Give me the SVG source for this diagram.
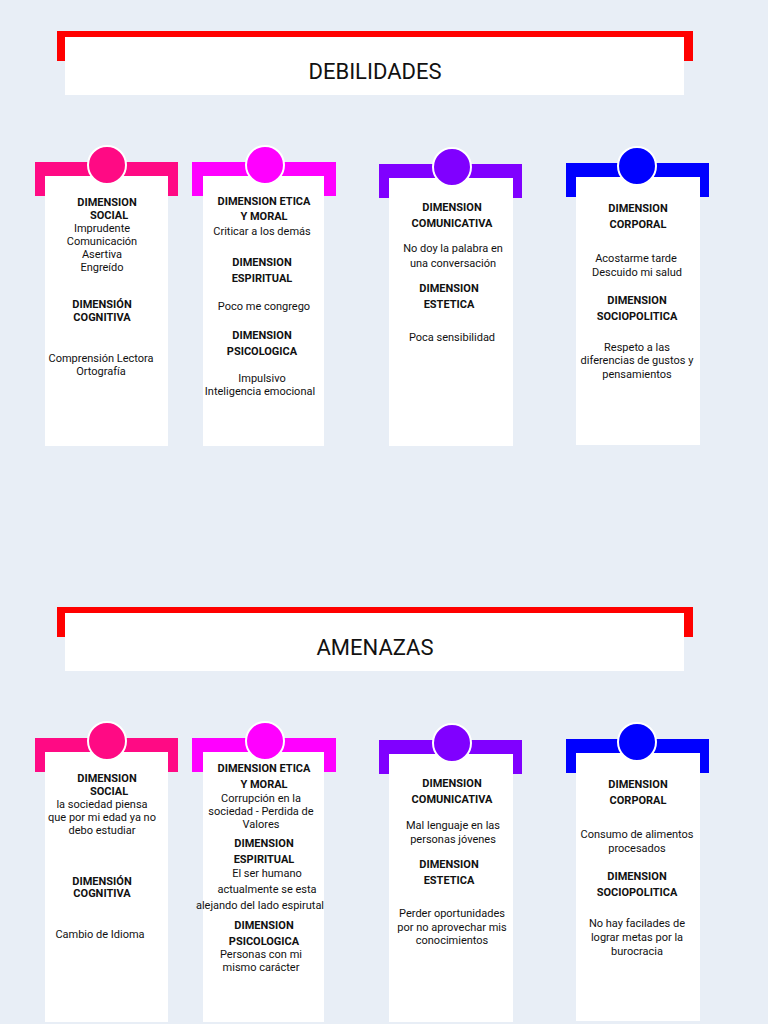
<svg xmlns="http://www.w3.org/2000/svg" width="768" height="1024" viewBox="0 0 768 1024">
<style>
text{font-family:Roboto,"Liberation Sans",sans-serif;text-anchor:middle;fill:#111}
.t{font-size:11px}
.b{font-size:11px;font-weight:bold}
.h{font-size:22px}
.card{fill:#fff}
.c{stroke:#fff;stroke-width:2}
</style>
<rect width="768" height="1024" fill="#e8eef6"/>
<g id="hdr1"><rect x="57" y="31" width="636" height="30" fill="#ff0000"/><rect x="65" y="37" width="619" height="58" fill="#fff"/><text class="h" x="375" y="79">DEBILIDADES</text></g>
<g id="hdr2"><rect x="57" y="607" width="636" height="30" fill="#ff0000"/><rect x="65" y="613" width="619" height="58" fill="#fff"/><text class="h" x="375" y="655">AMENAZAS</text></g>

<g id="d1"><rect x="35" y="162" width="143" height="34" fill="#ff0a84"/><rect class="card" x="45" y="176" width="123" height="270"/><circle class="c" cx="107" cy="165" r="19" fill="#ff0a84"/>
<text class="b" x="107" y="206">DIMENSION</text><text class="b" x="109" y="219">SOCIAL</text>
<text class="t" x="102" y="232">Imprudente</text><text class="t" x="102" y="245">Comunicación</text><text class="t" x="102" y="258">Asertiva</text><text class="t" x="102" y="271">Engreído</text>
<text class="b" x="102" y="308">DIMENSIÓN</text><text class="b" x="102" y="321">COGNITIVA</text>
<text class="t" x="101" y="362">Comprensión Lectora</text><text class="t" x="101" y="375">Ortografía</text></g>

<g id="d2"><rect x="192" y="162" width="144" height="34" fill="#ff00ff"/><rect class="card" x="203" y="176" width="121" height="270"/><circle class="c" cx="265" cy="165" r="19" fill="#ff00ff"/>
<text class="b" x="264" y="205">DIMENSION ETICA</text><text class="b" x="264" y="220">Y MORAL</text><text class="t" x="262" y="235">Criticar a los demás</text>
<text class="b" x="262" y="266">DIMENSION</text><text class="b" x="262" y="282">ESPIRITUAL</text><text class="t" x="264" y="310">Poco me congrego</text>
<text class="b" x="262" y="339">DIMENSION</text><text class="b" x="262" y="355">PSICOLOGICA</text>
<text class="t" x="262" y="382">Impulsivo</text><text class="t" x="260" y="395">Inteligencia emocional</text></g>

<g id="d3"><rect x="379" y="164" width="143" height="34" fill="#8000ff"/><rect class="card" x="389" y="178" width="124" height="268"/><circle class="c" cx="452" cy="167" r="19" fill="#8000ff"/>
<text class="b" x="452" y="211">DIMENSION</text><text class="b" x="452" y="227">COMUNICATIVA</text>
<text class="t" x="453" y="252">No doy la palabra en</text><text class="t" x="453" y="267">una conversación</text>
<text class="b" x="449" y="292">DIMENSION</text><text class="b" x="449" y="308">ESTETICA</text><text class="t" x="452" y="341">Poca sensibilidad</text></g>

<g id="d4"><rect x="566" y="163" width="143" height="34" fill="#0000ff"/><rect class="card" x="576" y="177" width="124" height="268"/><circle class="c" cx="637" cy="166" r="19" fill="#0000ff"/>
<text class="b" x="638" y="212">DIMENSION</text><text class="b" x="638" y="228">CORPORAL</text>
<text class="t" x="636" y="262">Acostarme tarde</text><text class="t" x="637" y="276">Descuido mi salud</text>
<text class="b" x="637" y="304">DIMENSION</text><text class="b" x="637" y="320">SOCIOPOLITICA</text>
<text class="t" x="637" y="351">Respeto a las</text><text class="t" x="637" y="364">diferencias de gustos y</text><text class="t" x="637" y="378">pensamientos</text></g>

<g id="a1"><rect x="35" y="738" width="143" height="34" fill="#ff0a84"/><rect class="card" x="45" y="752" width="123" height="270"/><circle class="c" cx="107" cy="741" r="19" fill="#ff0a84"/>
<text class="b" x="107" y="782">DIMENSION</text><text class="b" x="109" y="795">SOCIAL</text>
<text class="t" x="102" y="808">la sociedad piensa</text><text class="t" x="102" y="821">que por mi edad ya no</text><text class="t" x="102" y="834">debo estudiar</text>
<text class="b" x="102" y="885">DIMENSIÓN</text><text class="b" x="102" y="897">COGNITIVA</text><text class="t" x="100" y="938">Cambio de Idioma</text></g>

<g id="a2"><rect x="192" y="738" width="144" height="34" fill="#ff00ff"/><rect class="card" x="203" y="752" width="121" height="270"/><circle class="c" cx="265" cy="741" r="19" fill="#ff00ff"/>
<text class="b" x="264" y="772">DIMENSION ETICA</text><text class="b" x="264" y="788">Y MORAL</text>
<text class="t" x="261" y="802">Corrupción en la</text><text class="t" x="261" y="815">sociedad - Perdida de</text><text class="t" x="261" y="828">Valores</text>
<text class="b" x="264" y="847">DIMENSION</text><text class="b" x="264" y="863">ESPIRITUAL</text>
<text class="t" x="267" y="877">El ser humano</text><text class="t" x="267" y="893">actualmente se esta</text><text class="t" x="260" y="909">alejando del lado espirutal</text>
<text class="b" x="264" y="929">DIMENSION</text><text class="b" x="264" y="945">PSICOLOGICA</text>
<text class="t" x="261" y="958">Personas con mi</text><text class="t" x="261" y="971">mismo carácter</text></g>

<g id="a3"><rect x="379" y="740" width="143" height="34" fill="#8000ff"/><rect class="card" x="389" y="754" width="124" height="268"/><circle class="c" cx="452" cy="743" r="19" fill="#8000ff"/>
<text class="b" x="452" y="787">DIMENSION</text><text class="b" x="452" y="803">COMUNICATIVA</text>
<text class="t" x="453" y="829">Mal lenguaje en las</text><text class="t" x="453" y="843">personas jóvenes</text>
<text class="b" x="449" y="868">DIMENSION</text><text class="b" x="449" y="884">ESTETICA</text>
<text class="t" x="452" y="917">Perder oportunidades</text><text class="t" x="452" y="931">por no aprovechar mis</text><text class="t" x="452" y="944">conocimientos</text></g>

<g id="a4"><rect x="566" y="739" width="143" height="34" fill="#0000ff"/><rect class="card" x="576" y="753" width="124" height="268"/><circle class="c" cx="637" cy="742" r="19" fill="#0000ff"/>
<text class="b" x="638" y="788">DIMENSION</text><text class="b" x="638" y="804">CORPORAL</text>
<text class="t" x="637" y="838">Consumo de alimentos</text><text class="t" x="637" y="852">procesados</text>
<text class="b" x="637" y="880">DIMENSION</text><text class="b" x="637" y="896">SOCIOPOLITICA</text>
<text class="t" x="637" y="927">No hay facilades de</text><text class="t" x="637" y="941">lograr metas por la</text><text class="t" x="637" y="955">burocracia</text></g>
<g id="connectors"/>
</svg>
